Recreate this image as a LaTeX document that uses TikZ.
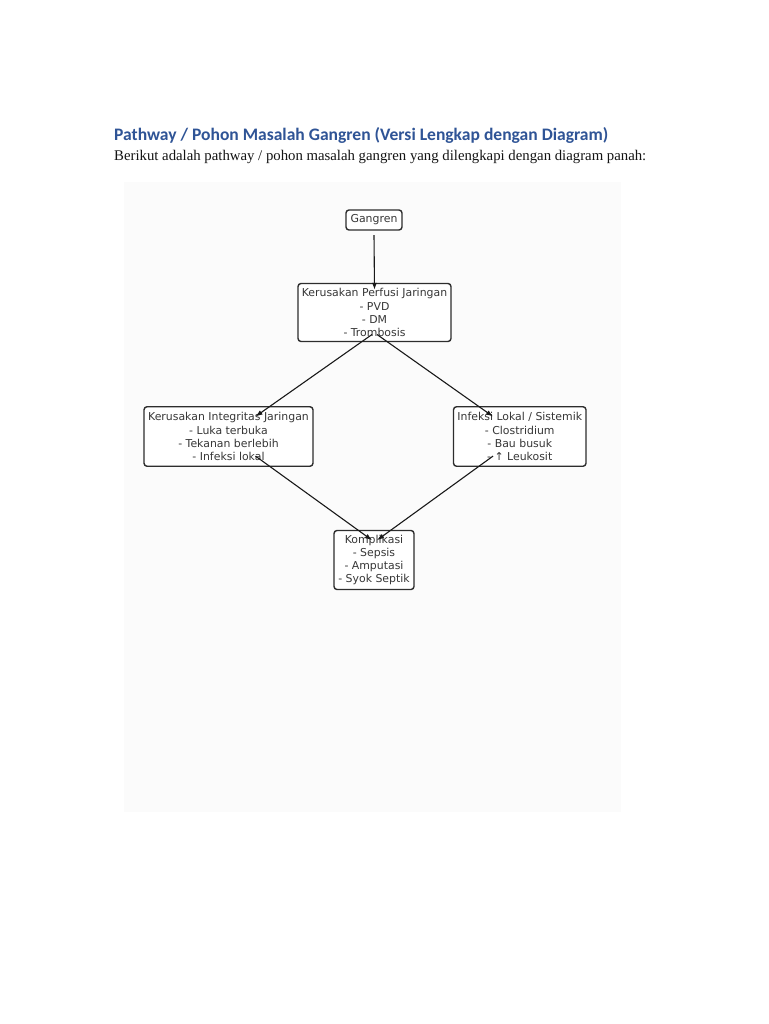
\documentclass[tikz,border=0pt]{standalone}
\usepackage{fontspec}
\usepackage{graphicx}
\usetikzlibrary{arrows.meta,calc}
\setmainfont{Liberation Serif}
\newfontfamily\titlefont{Carlito}
\newfontfamily\boxfont{DejaVu Sans}
\definecolor{titleblue}{RGB}{47,84,150}
\definecolor{bodytext}{RGB}{20,20,20}
\definecolor{panel}{RGB}{251,251,251}
\definecolor{boxline}{RGB}{45,45,45}
\definecolor{boxtext}{RGB}{55,55,55}
\definecolor{arrowcol}{RGB}{25,25,25}
\tikzset{
  pbox/.style={draw=boxline, line width=1.4pt, rounded corners=3pt, fill=white,
    inner sep=0pt, align=center, text=boxtext,
    font=\boxfont\fontsize{10.9pt}{13.1pt}\selectfont},
  parrow/.style={draw=arrowcol, line width=1.1pt, -{Latex[length=7pt,width=5pt]}}
}
\begin{document}
\begin{tikzpicture}[x=1pt,y=-1pt]
\useasboundingbox (0,0) rectangle (768,1024);
\fill[white] (0,0) rectangle (768,1024);
\fill[panel] (124,182) rectangle (621,812);
\node[anchor=base west, inner sep=0pt, text=titleblue] (title) at (114,141)
  {\resizebox{494pt}{!}{\titlefont\bfseries Pathway / Pohon Masalah Gangren (Versi Lengkap dengan Diagram)}};
\node[anchor=base west, inner sep=0pt, text=bodytext] (intro) at (114,161)
  {\resizebox{532pt}{!}{Berikut adalah pathway / pohon masalah gangren yang dilengkapi dengan diagram panah:}};

\node[pbox, minimum width=56pt, minimum height=20pt] (gang) at (374,220) {Gangren};
\node[pbox, minimum width=153pt, minimum height=58pt] (perf) at (374.5,312.5)
  {Kerusakan Perfusi Jaringan\\- PVD\\- DM\\- Trombosis};
\node[pbox, minimum width=169pt, minimum height=59.5pt] (integ) at (228.5,436.5)
  {Kerusakan Integritas Jaringan\\- Luka terbuka\\- Tekanan berlebih\\- Infeksi lokal};
\node[pbox, minimum width=132.5pt, minimum height=59.5pt] (inf) at (519.75,436.5)
  {Infeksi Lokal / Sistemik\\- Clostridium\\- Bau busuk\\- ↑ Leukosit};
\node[pbox, minimum width=80pt, minimum height=59pt] (komp) at (374,560)
  {Komplikasi\\- Sepsis\\- Amputasi\\- Syok Septik};

\draw[parrow] ([yshift=-4.5pt]gang.south) -- ([yshift=-7pt]perf.north);
\draw[parrow] ($(perf.center)+(-2.5,22)$) -- ($(integ.center)+(27,-20)$);
\draw[parrow] ($(perf.center)+(2.5,22)$) -- ($(inf.center)+(-26.75,-20)$);
\draw[parrow] ($(integ.center)+(27,19.6)$) -- ($(komp.center)+(-2,-19.8)$);
\draw[parrow] ($(inf.center)+(-26.75,19.6)$) -- ($(komp.center)+(3,-19.8)$);
\end{tikzpicture}
\end{document}
